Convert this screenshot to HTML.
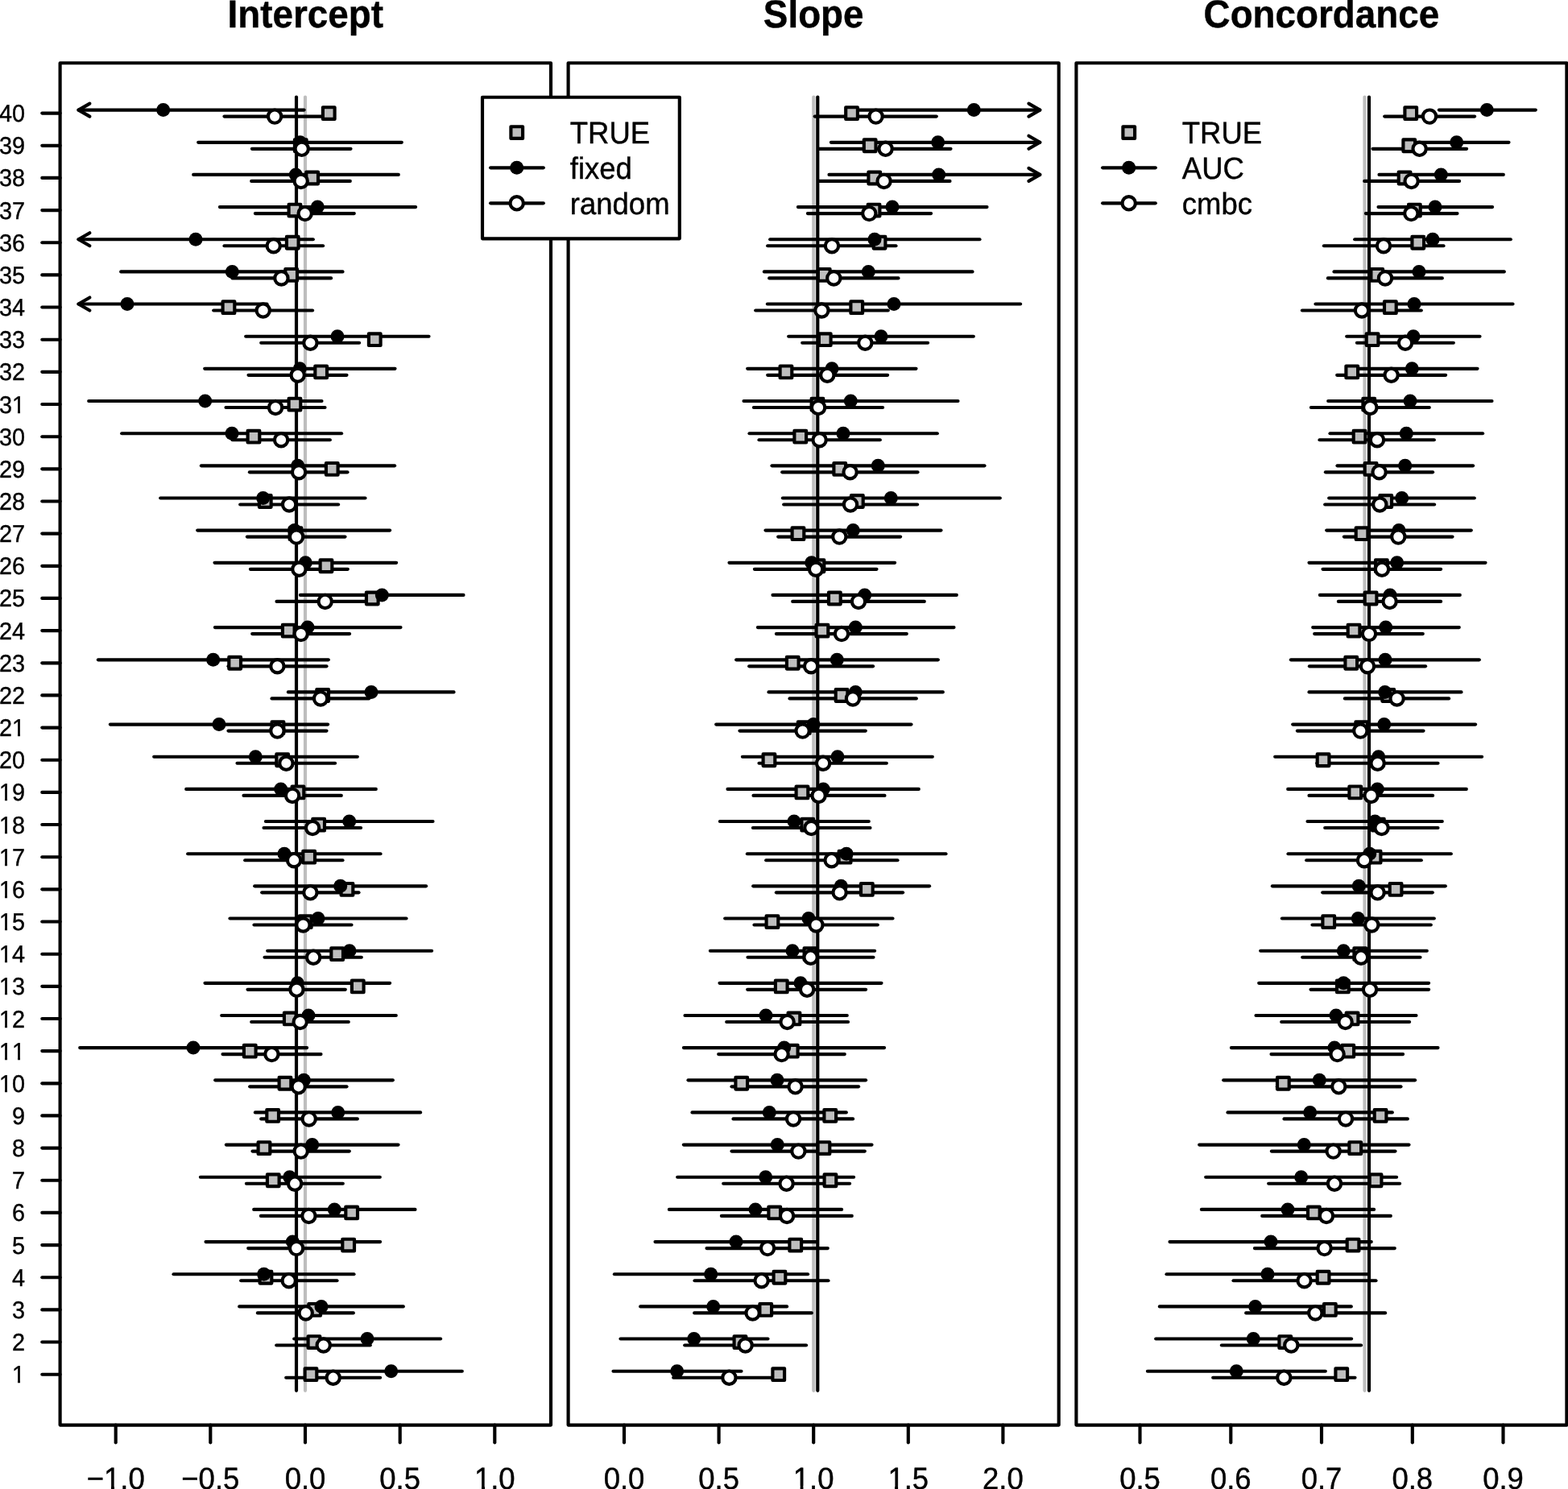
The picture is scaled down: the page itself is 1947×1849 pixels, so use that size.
<!DOCTYPE html>
<html lang="en"><head><meta charset="utf-8"><title>Intercept, Slope, Concordance</title>
<style>
html,body{margin:0;padding:0;background:#fff;}
body{width:1947px;height:1849px;overflow:hidden;}
svg{display:block;}
text{font-family:"Liberation Sans",sans-serif;fill:#000;stroke:#000;stroke-width:0.4px;stroke-linejoin:round;font-kerning:none;text-rendering:geometricPrecision;}
.t{font-size:45.8px;font-weight:bold;text-anchor:middle;}
.x{font-size:36.5px;text-anchor:middle;}
.y{font-size:28.8px;text-anchor:end;}
.l{font-size:36.5px;}
.k{stroke:#000;stroke-width:4.15;stroke-linecap:round;stroke-linejoin:round;fill:none;}
.g{stroke:#bebebe;stroke-width:4.15;stroke-linecap:round;fill:none;}
.b{stroke:#000;stroke-width:4.15;fill:none;stroke-linejoin:round;}
.d{fill:#000;stroke:none;}
.c{fill:#fff;stroke:#000;stroke-width:4.15;}
.s{fill:#bebebe;stroke:#000;stroke-width:4.15;stroke-linejoin:round;}
</style></head><body>
<svg width="1947" height="1849" viewBox="0 0 1947 1849">
<rect x="0" y="0" width="1947" height="1849" fill="#fff"/>
<g>
<text class="t" transform="translate(379.3 34.4) scale(1 1.06)">Intercept</text>
<line class="g" x1="379" y1="120.5" x2="379" y2="1726.8"/>
<line class="k" x1="368" y1="120.5" x2="368" y2="1726.8"/>
<line class="k" x1="97.5" y1="136.6" x2="377.6" y2="136.6"/>
<path class="k" d="M111.4 128.6 L97.5 136.6 L111.4 144.6"/>
<line class="k" x1="278.5" y1="144.6" x2="406.8" y2="144.6"/>
<line class="k" x1="246.2" y1="176.8" x2="498.8" y2="176.8"/>
<line class="k" x1="312.9" y1="184.8" x2="435.5" y2="184.8"/>
<line class="k" x1="240.2" y1="216.9" x2="494.8" y2="216.9"/>
<line class="k" x1="312.2" y1="224.9" x2="434.8" y2="224.9"/>
<line class="k" x1="272.9" y1="257.1" x2="516.1" y2="257.1"/>
<line class="k" x1="316.9" y1="265.1" x2="439.8" y2="265.1"/>
<line class="k" x1="97.5" y1="297.2" x2="388.8" y2="297.2"/>
<path class="k" d="M111.4 289.2 L97.5 297.2 L111.4 305.2"/>
<line class="k" x1="278.5" y1="305.2" x2="401.1" y2="305.2"/>
<line class="k" x1="150.2" y1="337.4" x2="425.5" y2="337.4"/>
<line class="k" x1="288.5" y1="345.4" x2="411.1" y2="345.4"/>
<line class="k" x1="97.5" y1="377.5" x2="331.5" y2="377.5"/>
<path class="k" d="M111.4 369.5 L97.5 377.5 L111.4 385.5"/>
<line class="k" x1="265.2" y1="385.5" x2="388.1" y2="385.5"/>
<line class="k" x1="305.2" y1="417.7" x2="532.5" y2="417.7"/>
<line class="k" x1="324.2" y1="425.7" x2="446.1" y2="425.7"/>
<line class="k" x1="254.2" y1="457.8" x2="490.5" y2="457.8"/>
<line class="k" x1="308.5" y1="465.8" x2="430.5" y2="465.8"/>
<line class="k" x1="110.2" y1="498" x2="399.5" y2="498"/>
<line class="k" x1="280.5" y1="506" x2="403.5" y2="506"/>
<line class="k" x1="151.2" y1="538.2" x2="424.1" y2="538.2"/>
<line class="k" x1="288.5" y1="546.2" x2="409.8" y2="546.2"/>
<line class="k" x1="249.9" y1="578.3" x2="490.1" y2="578.3"/>
<line class="k" x1="309.9" y1="586.3" x2="431.5" y2="586.3"/>
<line class="k" x1="199.2" y1="618.5" x2="453.5" y2="618.5"/>
<line class="k" x1="298.2" y1="626.5" x2="420.1" y2="626.5"/>
<line class="k" x1="245.2" y1="658.6" x2="484.1" y2="658.6"/>
<line class="k" x1="306.9" y1="666.6" x2="428.5" y2="666.6"/>
<line class="k" x1="266.5" y1="698.8" x2="492.1" y2="698.8"/>
<line class="k" x1="310.9" y1="706.8" x2="431.8" y2="706.8"/>
<line class="k" x1="372.9" y1="738.9" x2="575.5" y2="738.9"/>
<line class="k" x1="343.5" y1="746.9" x2="463.8" y2="746.9"/>
<line class="k" x1="266.9" y1="779.1" x2="497.5" y2="779.1"/>
<line class="k" x1="313.2" y1="787.1" x2="434.1" y2="787.1"/>
<line class="k" x1="121.9" y1="819.3" x2="407.8" y2="819.3"/>
<line class="k" x1="283.5" y1="827.3" x2="405.5" y2="827.3"/>
<line class="k" x1="357.9" y1="859.4" x2="563.5" y2="859.4"/>
<line class="k" x1="337.5" y1="867.4" x2="458.1" y2="867.4"/>
<line class="k" x1="136.9" y1="899.6" x2="407.1" y2="899.6"/>
<line class="k" x1="283.5" y1="907.6" x2="405.5" y2="907.6"/>
<line class="k" x1="191.2" y1="939.7" x2="443.8" y2="939.7"/>
<line class="k" x1="294.5" y1="947.7" x2="416.1" y2="947.7"/>
<line class="k" x1="231.2" y1="979.9" x2="466.8" y2="979.9"/>
<line class="k" x1="302.5" y1="987.9" x2="423.8" y2="987.9"/>
<line class="k" x1="329.9" y1="1020" x2="537.5" y2="1020"/>
<line class="k" x1="327.5" y1="1028" x2="448.1" y2="1028"/>
<line class="k" x1="233.2" y1="1060.2" x2="472.5" y2="1060.2"/>
<line class="k" x1="304.2" y1="1068.2" x2="425.5" y2="1068.2"/>
<line class="k" x1="316.2" y1="1100.3" x2="529.1" y2="1100.3"/>
<line class="k" x1="325.2" y1="1108.3" x2="445.5" y2="1108.3"/>
<line class="k" x1="285.5" y1="1140.5" x2="504.5" y2="1140.5"/>
<line class="k" x1="315.5" y1="1148.5" x2="436.5" y2="1148.5"/>
<line class="k" x1="332.2" y1="1180.7" x2="536.1" y2="1180.7"/>
<line class="k" x1="328.5" y1="1188.7" x2="448.8" y2="1188.7"/>
<line class="k" x1="254.5" y1="1220.8" x2="484.1" y2="1220.8"/>
<line class="k" x1="307.5" y1="1228.8" x2="428.8" y2="1228.8"/>
<line class="k" x1="275.2" y1="1261" x2="491.8" y2="1261"/>
<line class="k" x1="312.2" y1="1269" x2="432.8" y2="1269"/>
<line class="k" x1="99.2" y1="1301.1" x2="381.1" y2="1301.1"/>
<line class="k" x1="276.5" y1="1309.1" x2="398.5" y2="1309.1"/>
<line class="k" x1="267.2" y1="1341.3" x2="487.8" y2="1341.3"/>
<line class="k" x1="310.2" y1="1349.3" x2="430.5" y2="1349.3"/>
<line class="k" x1="316.9" y1="1381.4" x2="522.1" y2="1381.4"/>
<line class="k" x1="324.2" y1="1389.4" x2="443.8" y2="1389.4"/>
<line class="k" x1="280.9" y1="1421.6" x2="494.5" y2="1421.6"/>
<line class="k" x1="313.5" y1="1429.6" x2="433.8" y2="1429.6"/>
<line class="k" x1="248.9" y1="1461.7" x2="471.8" y2="1461.7"/>
<line class="k" x1="305.9" y1="1469.7" x2="425.8" y2="1469.7"/>
<line class="k" x1="315.2" y1="1501.9" x2="515.5" y2="1501.9"/>
<line class="k" x1="323.9" y1="1509.9" x2="443.1" y2="1509.9"/>
<line class="k" x1="255.5" y1="1542.1" x2="472.1" y2="1542.1"/>
<line class="k" x1="308.2" y1="1550.1" x2="427.8" y2="1550.1"/>
<line class="k" x1="215.5" y1="1582.2" x2="439.5" y2="1582.2"/>
<line class="k" x1="299.2" y1="1590.2" x2="418.5" y2="1590.2"/>
<line class="k" x1="297.2" y1="1622.4" x2="500.8" y2="1622.4"/>
<line class="k" x1="319.9" y1="1630.4" x2="438.8" y2="1630.4"/>
<line class="k" x1="365.2" y1="1662.5" x2="547.1" y2="1662.5"/>
<line class="k" x1="343.2" y1="1670.5" x2="459.8" y2="1670.5"/>
<line class="k" x1="391.2" y1="1702.7" x2="573.8" y2="1702.7"/>
<line class="k" x1="355.2" y1="1710.7" x2="472.1" y2="1710.7"/>
<rect class="s" x="400.9" y="133.2" width="14.7" height="14.7"/>
<rect class="s" x="365.9" y="173.4" width="14.7" height="14.7"/>
<rect class="s" x="380.3" y="213.6" width="14.7" height="14.7"/>
<rect class="s" x="358.6" y="253.7" width="14.7" height="14.7"/>
<rect class="s" x="355.9" y="293.9" width="14.7" height="14.7"/>
<rect class="s" x="354.3" y="334" width="14.7" height="14.7"/>
<rect class="s" x="276.6" y="374.2" width="14.7" height="14.7"/>
<rect class="s" x="457.9" y="414.3" width="14.7" height="14.7"/>
<rect class="s" x="391.3" y="454.5" width="14.7" height="14.7"/>
<rect class="s" x="358.6" y="494.7" width="14.7" height="14.7"/>
<rect class="s" x="307.6" y="534.8" width="14.7" height="14.7"/>
<rect class="s" x="404.9" y="575" width="14.7" height="14.7"/>
<rect class="s" x="321.9" y="615.1" width="14.7" height="14.7"/>
<rect class="s" x="359.6" y="655.3" width="14.7" height="14.7"/>
<rect class="s" x="397.6" y="695.4" width="14.7" height="14.7"/>
<rect class="s" x="454.9" y="735.6" width="14.7" height="14.7"/>
<rect class="s" x="350.9" y="775.7" width="14.7" height="14.7"/>
<rect class="s" x="284.3" y="815.9" width="14.7" height="14.7"/>
<rect class="s" x="393.3" y="856.1" width="14.7" height="14.7"/>
<rect class="s" x="337.6" y="896.2" width="14.7" height="14.7"/>
<rect class="s" x="343.3" y="936.4" width="14.7" height="14.7"/>
<rect class="s" x="362.6" y="976.5" width="14.7" height="14.7"/>
<rect class="s" x="388.3" y="1016.7" width="14.7" height="14.7"/>
<rect class="s" x="376.3" y="1056.8" width="14.7" height="14.7"/>
<rect class="s" x="423.6" y="1097" width="14.7" height="14.7"/>
<rect class="s" x="371.9" y="1137.2" width="14.7" height="14.7"/>
<rect class="s" x="411.3" y="1177.3" width="14.7" height="14.7"/>
<rect class="s" x="436.9" y="1217.5" width="14.7" height="14.7"/>
<rect class="s" x="352.9" y="1257.6" width="14.7" height="14.7"/>
<rect class="s" x="302.9" y="1297.8" width="14.7" height="14.7"/>
<rect class="s" x="346.6" y="1337.9" width="14.7" height="14.7"/>
<rect class="s" x="331.3" y="1378.1" width="14.7" height="14.7"/>
<rect class="s" x="320.6" y="1418.2" width="14.7" height="14.7"/>
<rect class="s" x="331.9" y="1458.4" width="14.7" height="14.7"/>
<rect class="s" x="429.3" y="1498.6" width="14.7" height="14.7"/>
<rect class="s" x="425.3" y="1538.7" width="14.7" height="14.7"/>
<rect class="s" x="322.6" y="1578.9" width="14.7" height="14.7"/>
<rect class="s" x="383.3" y="1619" width="14.7" height="14.7"/>
<rect class="s" x="382.6" y="1659.2" width="14.7" height="14.7"/>
<rect class="s" x="378.6" y="1699.3" width="14.7" height="14.7"/>
<circle class="d" cx="202.7" cy="136.6" r="8.5"/>
<circle class="d" cx="372.7" cy="176.8" r="8.5"/>
<circle class="d" cx="367.3" cy="216.9" r="8.5"/>
<circle class="d" cx="394.3" cy="257.1" r="8.5"/>
<circle class="d" cx="243" cy="297.2" r="8.5"/>
<circle class="d" cx="288.3" cy="337.4" r="8.5"/>
<circle class="d" cx="158" cy="377.5" r="8.5"/>
<circle class="d" cx="419" cy="417.7" r="8.5"/>
<circle class="d" cx="372.3" cy="457.8" r="8.5"/>
<circle class="d" cx="254.7" cy="498" r="8.5"/>
<circle class="d" cx="288" cy="538.2" r="8.5"/>
<circle class="d" cx="369.7" cy="578.3" r="8.5"/>
<circle class="d" cx="326.7" cy="618.5" r="8.5"/>
<circle class="d" cx="365.7" cy="658.6" r="8.5"/>
<circle class="d" cx="379.3" cy="698.8" r="8.5"/>
<circle class="d" cx="474.3" cy="738.9" r="8.5"/>
<circle class="d" cx="382" cy="779.1" r="8.5"/>
<circle class="d" cx="264.7" cy="819.3" r="8.5"/>
<circle class="d" cx="461" cy="859.4" r="8.5"/>
<circle class="d" cx="272" cy="899.6" r="8.5"/>
<circle class="d" cx="317.3" cy="939.7" r="8.5"/>
<circle class="d" cx="348.7" cy="979.9" r="8.5"/>
<circle class="d" cx="433.7" cy="1020" r="8.5"/>
<circle class="d" cx="353" cy="1060.2" r="8.5"/>
<circle class="d" cx="422.7" cy="1100.3" r="8.5"/>
<circle class="d" cx="395" cy="1140.5" r="8.5"/>
<circle class="d" cx="434" cy="1180.7" r="8.5"/>
<circle class="d" cx="369.3" cy="1220.8" r="8.5"/>
<circle class="d" cx="383" cy="1261" r="8.5"/>
<circle class="d" cx="240" cy="1301.1" r="8.5"/>
<circle class="d" cx="377.3" cy="1341.3" r="8.5"/>
<circle class="d" cx="419.7" cy="1381.4" r="8.5"/>
<circle class="d" cx="387.7" cy="1421.6" r="8.5"/>
<circle class="d" cx="359.7" cy="1461.7" r="8.5"/>
<circle class="d" cx="415.3" cy="1501.9" r="8.5"/>
<circle class="d" cx="363.3" cy="1542.1" r="8.5"/>
<circle class="d" cx="327.7" cy="1582.2" r="8.5"/>
<circle class="d" cx="399" cy="1622.4" r="8.5"/>
<circle class="d" cx="456" cy="1662.5" r="8.5"/>
<circle class="d" cx="485.7" cy="1702.7" r="8.5"/>
<circle class="c" cx="341.1" cy="144.6" r="8.15"/>
<circle class="c" cx="374.7" cy="184.8" r="8.15"/>
<circle class="c" cx="373.7" cy="224.9" r="8.15"/>
<circle class="c" cx="378.7" cy="265.1" r="8.15"/>
<circle class="c" cx="339.7" cy="305.2" r="8.15"/>
<circle class="c" cx="349.4" cy="345.4" r="8.15"/>
<circle class="c" cx="326.7" cy="385.5" r="8.15"/>
<circle class="c" cx="385.4" cy="425.7" r="8.15"/>
<circle class="c" cx="369.7" cy="465.8" r="8.15"/>
<circle class="c" cx="342.1" cy="506" r="8.15"/>
<circle class="c" cx="349.1" cy="546.2" r="8.15"/>
<circle class="c" cx="371.1" cy="586.3" r="8.15"/>
<circle class="c" cx="359.1" cy="626.5" r="8.15"/>
<circle class="c" cx="368.1" cy="666.6" r="8.15"/>
<circle class="c" cx="371.4" cy="706.8" r="8.15"/>
<circle class="c" cx="403.7" cy="746.9" r="8.15"/>
<circle class="c" cx="373.7" cy="787.1" r="8.15"/>
<circle class="c" cx="344.4" cy="827.3" r="8.15"/>
<circle class="c" cx="398.1" cy="867.4" r="8.15"/>
<circle class="c" cx="344.4" cy="907.6" r="8.15"/>
<circle class="c" cx="355.4" cy="947.7" r="8.15"/>
<circle class="c" cx="363.1" cy="987.9" r="8.15"/>
<circle class="c" cx="388.1" cy="1028" r="8.15"/>
<circle class="c" cx="365.1" cy="1068.2" r="8.15"/>
<circle class="c" cx="385.4" cy="1108.3" r="8.15"/>
<circle class="c" cx="376.4" cy="1148.5" r="8.15"/>
<circle class="c" cx="389.1" cy="1188.7" r="8.15"/>
<circle class="c" cx="368.4" cy="1228.8" r="8.15"/>
<circle class="c" cx="372.7" cy="1269" r="8.15"/>
<circle class="c" cx="337.4" cy="1309.1" r="8.15"/>
<circle class="c" cx="370.7" cy="1349.3" r="8.15"/>
<circle class="c" cx="383.7" cy="1389.4" r="8.15"/>
<circle class="c" cx="373.7" cy="1429.6" r="8.15"/>
<circle class="c" cx="366.1" cy="1469.7" r="8.15"/>
<circle class="c" cx="383.4" cy="1509.9" r="8.15"/>
<circle class="c" cx="368.1" cy="1550.1" r="8.15"/>
<circle class="c" cx="358.7" cy="1590.2" r="8.15"/>
<circle class="c" cx="379.7" cy="1630.4" r="8.15"/>
<circle class="c" cx="401.7" cy="1670.5" r="8.15"/>
<circle class="c" cx="413.7" cy="1710.7" r="8.15"/>
<rect class="b" x="74.6" y="78.2" width="609.4" height="1691.4"/>
<line class="k" x1="143.7" y1="1769.6" x2="143.7" y2="1791.3"/>
<text class="x" transform="translate(143.7 1848.5) scale(1 1.044)">−1.0</text>
<line class="k" x1="261.3" y1="1769.6" x2="261.3" y2="1791.3"/>
<text class="x" transform="translate(261.3 1848.5) scale(1 1.044)">−0.5</text>
<line class="k" x1="379" y1="1769.6" x2="379" y2="1791.3"/>
<text class="x" transform="translate(379 1848.5) scale(1 1.044)">0.0</text>
<line class="k" x1="496.7" y1="1769.6" x2="496.7" y2="1791.3"/>
<text class="x" transform="translate(496.7 1848.5) scale(1 1.044)">0.5</text>
<line class="k" x1="614.3" y1="1769.6" x2="614.3" y2="1791.3"/>
<text class="x" transform="translate(614.3 1848.5) scale(1 1.044)">1.0</text>
</g>
<g>
<text class="t" transform="translate(1010.2 34.4) scale(1 1.06)">Slope</text>
<line class="g" x1="1010.3" y1="120.5" x2="1010.3" y2="1726.8"/>
<line class="k" x1="1015.3" y1="120.5" x2="1015.3" y2="1726.8"/>
<line class="k" x1="1059.5" y1="136.6" x2="1291.3" y2="136.6"/>
<path class="k" d="M1277.4 128.6 L1291.3 136.6 L1277.4 144.6"/>
<line class="k" x1="1011.7" y1="144.6" x2="1162.8" y2="144.6"/>
<line class="k" x1="1031.9" y1="176.8" x2="1291.3" y2="176.8"/>
<path class="k" d="M1277.4 168.8 L1291.3 176.8 L1277.4 184.8"/>
<line class="k" x1="1017.2" y1="184.8" x2="1180.5" y2="184.8"/>
<line class="k" x1="1029.5" y1="216.9" x2="1291.3" y2="216.9"/>
<path class="k" d="M1277.4 208.9 L1291.3 216.9 L1277.4 224.9"/>
<line class="k" x1="1017.2" y1="224.9" x2="1179.5" y2="224.9"/>
<line class="k" x1="990.9" y1="257.1" x2="1225.5" y2="257.1"/>
<line class="k" x1="1002.9" y1="265.1" x2="1156.1" y2="265.1"/>
<line class="k" x1="956.2" y1="297.2" x2="1216.5" y2="297.2"/>
<line class="k" x1="953.2" y1="305.2" x2="1112.5" y2="305.2"/>
<line class="k" x1="948.9" y1="337.4" x2="1207.5" y2="337.4"/>
<line class="k" x1="955.2" y1="345.4" x2="1115.5" y2="345.4"/>
<line class="k" x1="952.9" y1="377.5" x2="1267.1" y2="377.5"/>
<line class="k" x1="938.2" y1="385.5" x2="1102.8" y2="385.5"/>
<line class="k" x1="979.2" y1="417.7" x2="1208.8" y2="417.7"/>
<line class="k" x1="996.2" y1="425.7" x2="1152.1" y2="425.7"/>
<line class="k" x1="928.2" y1="457.8" x2="1137.5" y2="457.8"/>
<line class="k" x1="953.2" y1="465.8" x2="1102.1" y2="465.8"/>
<line class="k" x1="923.5" y1="498" x2="1189.5" y2="498"/>
<line class="k" x1="935.9" y1="506" x2="1096.1" y2="506"/>
<line class="k" x1="930.5" y1="538.2" x2="1163.8" y2="538.2"/>
<line class="k" x1="942.5" y1="546.2" x2="1092.8" y2="546.2"/>
<line class="k" x1="958.5" y1="578.3" x2="1222.5" y2="578.3"/>
<line class="k" x1="971.2" y1="586.3" x2="1139.5" y2="586.3"/>
<line class="k" x1="971.9" y1="618.5" x2="1241.8" y2="618.5"/>
<line class="k" x1="973.2" y1="626.5" x2="1139.1" y2="626.5"/>
<line class="k" x1="950.5" y1="658.6" x2="1168.5" y2="658.6"/>
<line class="k" x1="966.2" y1="666.6" x2="1118.1" y2="666.6"/>
<line class="k" x1="905.5" y1="698.8" x2="1111.1" y2="698.8"/>
<line class="k" x1="936.9" y1="706.8" x2="1088.5" y2="706.8"/>
<line class="k" x1="959.5" y1="738.9" x2="1187.8" y2="738.9"/>
<line class="k" x1="984.2" y1="746.9" x2="1147.8" y2="746.9"/>
<line class="k" x1="940.9" y1="779.1" x2="1184.5" y2="779.1"/>
<line class="k" x1="963.9" y1="787.1" x2="1125.8" y2="787.1"/>
<line class="k" x1="914.2" y1="819.3" x2="1164.8" y2="819.3"/>
<line class="k" x1="930.2" y1="827.3" x2="1084.1" y2="827.3"/>
<line class="k" x1="954.5" y1="859.4" x2="1170.8" y2="859.4"/>
<line class="k" x1="980.5" y1="867.4" x2="1137.8" y2="867.4"/>
<line class="k" x1="889.2" y1="899.6" x2="1131.5" y2="899.6"/>
<line class="k" x1="918.5" y1="907.6" x2="1074.8" y2="907.6"/>
<line class="k" x1="921.9" y1="939.7" x2="1157.8" y2="939.7"/>
<line class="k" x1="942.5" y1="947.7" x2="1100.8" y2="947.7"/>
<line class="k" x1="903.5" y1="979.9" x2="1140.8" y2="979.9"/>
<line class="k" x1="935.5" y1="987.9" x2="1098.5" y2="987.9"/>
<line class="k" x1="893.9" y1="1020" x2="1078.8" y2="1020"/>
<line class="k" x1="934.9" y1="1028" x2="1080.5" y2="1028"/>
<line class="k" x1="927.9" y1="1060.2" x2="1174.5" y2="1060.2"/>
<line class="k" x1="951.2" y1="1068.2" x2="1114.5" y2="1068.2"/>
<line class="k" x1="935.2" y1="1100.3" x2="1154.1" y2="1100.3"/>
<line class="k" x1="963.9" y1="1108.3" x2="1121.1" y2="1108.3"/>
<line class="k" x1="900.2" y1="1140.5" x2="1108.5" y2="1140.5"/>
<line class="k" x1="936.5" y1="1148.5" x2="1089.8" y2="1148.5"/>
<line class="k" x1="881.9" y1="1180.7" x2="1086.1" y2="1180.7"/>
<line class="k" x1="928.5" y1="1188.7" x2="1084.5" y2="1188.7"/>
<line class="k" x1="893.5" y1="1220.8" x2="1094.5" y2="1220.8"/>
<line class="k" x1="928.2" y1="1228.8" x2="1075.1" y2="1228.8"/>
<line class="k" x1="850.5" y1="1261" x2="1051.8" y2="1261"/>
<line class="k" x1="902.2" y1="1269" x2="1053.1" y2="1269"/>
<line class="k" x1="848.9" y1="1301.1" x2="1098.1" y2="1301.1"/>
<line class="k" x1="892.2" y1="1309.1" x2="1048.8" y2="1309.1"/>
<line class="k" x1="854.5" y1="1341.3" x2="1075.1" y2="1341.3"/>
<line class="k" x1="908.5" y1="1349.3" x2="1066.1" y2="1349.3"/>
<line class="k" x1="859.5" y1="1381.4" x2="1050.8" y2="1381.4"/>
<line class="k" x1="910.5" y1="1389.4" x2="1059.1" y2="1389.4"/>
<line class="k" x1="848.9" y1="1421.6" x2="1082.5" y2="1421.6"/>
<line class="k" x1="908.5" y1="1429.6" x2="1073.8" y2="1429.6"/>
<line class="k" x1="841.2" y1="1461.7" x2="1060.1" y2="1461.7"/>
<line class="k" x1="898.2" y1="1469.7" x2="1055.1" y2="1469.7"/>
<line class="k" x1="830.9" y1="1501.9" x2="1045.1" y2="1501.9"/>
<line class="k" x1="895.9" y1="1509.9" x2="1057.8" y2="1509.9"/>
<line class="k" x1="813.5" y1="1542.1" x2="1014.8" y2="1542.1"/>
<line class="k" x1="877.5" y1="1550.1" x2="1027.8" y2="1550.1"/>
<line class="k" x1="762.9" y1="1582.2" x2="1003.1" y2="1582.2"/>
<line class="k" x1="862.5" y1="1590.2" x2="1028.5" y2="1590.2"/>
<line class="k" x1="795.2" y1="1622.4" x2="977.1" y2="1622.4"/>
<line class="k" x1="862.2" y1="1630.4" x2="1007.8" y2="1630.4"/>
<line class="k" x1="770.5" y1="1662.5" x2="953.5" y2="1662.5"/>
<line class="k" x1="850.2" y1="1670.5" x2="1001.1" y2="1670.5"/>
<line class="k" x1="761.5" y1="1702.7" x2="920.5" y2="1702.7"/>
<line class="k" x1="836.2" y1="1710.7" x2="972.1" y2="1710.7"/>
<rect class="s" x="1050.2" y="133.2" width="14.7" height="14.7"/>
<rect class="s" x="1072.8" y="173.4" width="14.7" height="14.7"/>
<rect class="s" x="1078.4" y="213.6" width="14.7" height="14.7"/>
<rect class="s" x="1077.7" y="253.7" width="14.7" height="14.7"/>
<rect class="s" x="1084.7" y="293.9" width="14.7" height="14.7"/>
<rect class="s" x="1015.9" y="334" width="14.7" height="14.7"/>
<rect class="s" x="1056.4" y="374.2" width="14.7" height="14.7"/>
<rect class="s" x="1016.9" y="414.3" width="14.7" height="14.7"/>
<rect class="s" x="968.6" y="454.5" width="14.7" height="14.7"/>
<rect class="s" x="1007.6" y="494.7" width="14.7" height="14.7"/>
<rect class="s" x="986.4" y="534.8" width="14.7" height="14.7"/>
<rect class="s" x="1035.4" y="575" width="14.7" height="14.7"/>
<rect class="s" x="1057" y="615.1" width="14.7" height="14.7"/>
<rect class="s" x="983.6" y="655.3" width="14.7" height="14.7"/>
<rect class="s" x="1008.6" y="695.4" width="14.7" height="14.7"/>
<rect class="s" x="1029" y="735.6" width="14.7" height="14.7"/>
<rect class="s" x="1013.6" y="775.7" width="14.7" height="14.7"/>
<rect class="s" x="976.9" y="815.9" width="14.7" height="14.7"/>
<rect class="s" x="1037.7" y="856.1" width="14.7" height="14.7"/>
<rect class="s" x="990.9" y="896.2" width="14.7" height="14.7"/>
<rect class="s" x="947.6" y="936.4" width="14.7" height="14.7"/>
<rect class="s" x="988.6" y="976.5" width="14.7" height="14.7"/>
<rect class="s" x="995.4" y="1016.7" width="14.7" height="14.7"/>
<rect class="s" x="1041.7" y="1056.8" width="14.7" height="14.7"/>
<rect class="s" x="1069" y="1097" width="14.7" height="14.7"/>
<rect class="s" x="951.6" y="1137.2" width="14.7" height="14.7"/>
<rect class="s" x="998.6" y="1177.3" width="14.7" height="14.7"/>
<rect class="s" x="962.9" y="1217.5" width="14.7" height="14.7"/>
<rect class="s" x="978.6" y="1257.6" width="14.7" height="14.7"/>
<rect class="s" x="975.9" y="1297.8" width="14.7" height="14.7"/>
<rect class="s" x="913.4" y="1337.9" width="14.7" height="14.7"/>
<rect class="s" x="1023.4" y="1378.1" width="14.7" height="14.7"/>
<rect class="s" x="1015.6" y="1418.2" width="14.7" height="14.7"/>
<rect class="s" x="1023.6" y="1458.4" width="14.7" height="14.7"/>
<rect class="s" x="954.4" y="1498.6" width="14.7" height="14.7"/>
<rect class="s" x="980.4" y="1538.7" width="14.7" height="14.7"/>
<rect class="s" x="960.6" y="1578.9" width="14.7" height="14.7"/>
<rect class="s" x="943.4" y="1619" width="14.7" height="14.7"/>
<rect class="s" x="911.6" y="1659.2" width="14.7" height="14.7"/>
<rect class="s" x="959.4" y="1699.3" width="14.7" height="14.7"/>
<circle class="d" cx="1209.3" cy="136.6" r="8.5"/>
<circle class="d" cx="1164.7" cy="176.8" r="8.5"/>
<circle class="d" cx="1165.7" cy="216.9" r="8.5"/>
<circle class="d" cx="1108" cy="257.1" r="8.5"/>
<circle class="d" cx="1086" cy="297.2" r="8.5"/>
<circle class="d" cx="1078.3" cy="337.4" r="8.5"/>
<circle class="d" cx="1110" cy="377.5" r="8.5"/>
<circle class="d" cx="1094" cy="417.7" r="8.5"/>
<circle class="d" cx="1033" cy="457.8" r="8.5"/>
<circle class="d" cx="1056.3" cy="498" r="8.5"/>
<circle class="d" cx="1047" cy="538.2" r="8.5"/>
<circle class="d" cx="1090.3" cy="578.3" r="8.5"/>
<circle class="d" cx="1106.3" cy="618.5" r="8.5"/>
<circle class="d" cx="1059.3" cy="658.6" r="8.5"/>
<circle class="d" cx="1007.7" cy="698.8" r="8.5"/>
<circle class="d" cx="1073.7" cy="738.9" r="8.5"/>
<circle class="d" cx="1062.3" cy="779.1" r="8.5"/>
<circle class="d" cx="1039.3" cy="819.3" r="8.5"/>
<circle class="d" cx="1062.3" cy="859.4" r="8.5"/>
<circle class="d" cx="1010" cy="899.6" r="8.5"/>
<circle class="d" cx="1040" cy="939.7" r="8.5"/>
<circle class="d" cx="1022.3" cy="979.9" r="8.5"/>
<circle class="d" cx="986" cy="1020" r="8.5"/>
<circle class="d" cx="1051" cy="1060.2" r="8.5"/>
<circle class="d" cx="1044.3" cy="1100.3" r="8.5"/>
<circle class="d" cx="1004" cy="1140.5" r="8.5"/>
<circle class="d" cx="984" cy="1180.7" r="8.5"/>
<circle class="d" cx="994" cy="1220.8" r="8.5"/>
<circle class="d" cx="951" cy="1261" r="8.5"/>
<circle class="d" cx="973.7" cy="1301.1" r="8.5"/>
<circle class="d" cx="965" cy="1341.3" r="8.5"/>
<circle class="d" cx="955.3" cy="1381.4" r="8.5"/>
<circle class="d" cx="965.3" cy="1421.6" r="8.5"/>
<circle class="d" cx="950.7" cy="1461.7" r="8.5"/>
<circle class="d" cx="938" cy="1501.9" r="8.5"/>
<circle class="d" cx="914" cy="1542.1" r="8.5"/>
<circle class="d" cx="882.7" cy="1582.2" r="8.5"/>
<circle class="d" cx="885.7" cy="1622.4" r="8.5"/>
<circle class="d" cx="861.7" cy="1662.5" r="8.5"/>
<circle class="d" cx="840.7" cy="1702.7" r="8.5"/>
<circle class="c" cx="1087.6" cy="144.6" r="8.15"/>
<circle class="c" cx="1099.6" cy="184.8" r="8.15"/>
<circle class="c" cx="1097.6" cy="224.9" r="8.15"/>
<circle class="c" cx="1079.3" cy="265.1" r="8.15"/>
<circle class="c" cx="1033" cy="305.2" r="8.15"/>
<circle class="c" cx="1035.3" cy="345.4" r="8.15"/>
<circle class="c" cx="1020.4" cy="385.5" r="8.15"/>
<circle class="c" cx="1074.3" cy="425.7" r="8.15"/>
<circle class="c" cx="1027.3" cy="465.8" r="8.15"/>
<circle class="c" cx="1016.1" cy="506" r="8.15"/>
<circle class="c" cx="1017.6" cy="546.2" r="8.15"/>
<circle class="c" cx="1055.6" cy="586.3" r="8.15"/>
<circle class="c" cx="1056" cy="626.5" r="8.15"/>
<circle class="c" cx="1042.3" cy="666.6" r="8.15"/>
<circle class="c" cx="1013.1" cy="706.8" r="8.15"/>
<circle class="c" cx="1066" cy="746.9" r="8.15"/>
<circle class="c" cx="1045" cy="787.1" r="8.15"/>
<circle class="c" cx="1007.1" cy="827.3" r="8.15"/>
<circle class="c" cx="1059" cy="867.4" r="8.15"/>
<circle class="c" cx="996.6" cy="907.6" r="8.15"/>
<circle class="c" cx="1022.1" cy="947.7" r="8.15"/>
<circle class="c" cx="1016.6" cy="987.9" r="8.15"/>
<circle class="c" cx="1007.4" cy="1028" r="8.15"/>
<circle class="c" cx="1032.6" cy="1068.2" r="8.15"/>
<circle class="c" cx="1042.6" cy="1108.3" r="8.15"/>
<circle class="c" cx="1013.4" cy="1148.5" r="8.15"/>
<circle class="c" cx="1006.6" cy="1188.7" r="8.15"/>
<circle class="c" cx="1002.1" cy="1228.8" r="8.15"/>
<circle class="c" cx="977.6" cy="1269" r="8.15"/>
<circle class="c" cx="970.6" cy="1309.1" r="8.15"/>
<circle class="c" cx="987.6" cy="1349.3" r="8.15"/>
<circle class="c" cx="985.1" cy="1389.4" r="8.15"/>
<circle class="c" cx="991.4" cy="1429.6" r="8.15"/>
<circle class="c" cx="976.6" cy="1469.7" r="8.15"/>
<circle class="c" cx="977.1" cy="1509.9" r="8.15"/>
<circle class="c" cx="953.1" cy="1550.1" r="8.15"/>
<circle class="c" cx="945.6" cy="1590.2" r="8.15"/>
<circle class="c" cx="934.6" cy="1630.4" r="8.15"/>
<circle class="c" cx="925.6" cy="1670.5" r="8.15"/>
<circle class="c" cx="905.4" cy="1710.7" r="8.15"/>
<rect class="b" x="705.6" y="78.2" width="609.1" height="1691.4"/>
<line class="k" x1="775" y1="1769.6" x2="775" y2="1791.3"/>
<text class="x" transform="translate(775 1848.5) scale(1 1.044)">0.0</text>
<line class="k" x1="892.6" y1="1769.6" x2="892.6" y2="1791.3"/>
<text class="x" transform="translate(892.6 1848.5) scale(1 1.044)">0.5</text>
<line class="k" x1="1010.2" y1="1769.6" x2="1010.2" y2="1791.3"/>
<text class="x" transform="translate(1010.2 1848.5) scale(1 1.044)">1.0</text>
<line class="k" x1="1127.8" y1="1769.6" x2="1127.8" y2="1791.3"/>
<text class="x" transform="translate(1127.8 1848.5) scale(1 1.044)">1.5</text>
<line class="k" x1="1245.4" y1="1769.6" x2="1245.4" y2="1791.3"/>
<text class="x" transform="translate(1245.4 1848.5) scale(1 1.044)">2.0</text>
</g>
<g>
<text class="t" transform="translate(1640.9 34.4) scale(1 1.06)">Concordance</text>
<line class="g" x1="1694.5" y1="120.5" x2="1694.5" y2="1726.8"/>
<line class="k" x1="1700" y1="120.5" x2="1700" y2="1726.8"/>
<line class="k" x1="1786.9" y1="136.6" x2="1906.8" y2="136.6"/>
<line class="k" x1="1719.2" y1="144.6" x2="1831.1" y2="144.6"/>
<line class="k" x1="1745.9" y1="176.8" x2="1873.5" y2="176.8"/>
<line class="k" x1="1704.5" y1="184.8" x2="1821.1" y2="184.8"/>
<line class="k" x1="1712.5" y1="216.9" x2="1866.8" y2="216.9"/>
<line class="k" x1="1694.2" y1="224.9" x2="1812.1" y2="224.9"/>
<line class="k" x1="1711.5" y1="257.1" x2="1853.1" y2="257.1"/>
<line class="k" x1="1695.9" y1="265.1" x2="1809.5" y2="265.1"/>
<line class="k" x1="1682.2" y1="297.2" x2="1875.8" y2="297.2"/>
<line class="k" x1="1643.9" y1="305.2" x2="1792.5" y2="305.2"/>
<line class="k" x1="1656.5" y1="337.4" x2="1867.8" y2="337.4"/>
<line class="k" x1="1648.9" y1="345.4" x2="1790.8" y2="345.4"/>
<line class="k" x1="1633.5" y1="377.5" x2="1878.5" y2="377.5"/>
<line class="k" x1="1616.9" y1="385.5" x2="1764.8" y2="385.5"/>
<line class="k" x1="1672.2" y1="417.7" x2="1837.5" y2="417.7"/>
<line class="k" x1="1684.9" y1="425.7" x2="1804.8" y2="425.7"/>
<line class="k" x1="1673.2" y1="457.8" x2="1834.5" y2="457.8"/>
<line class="k" x1="1660.2" y1="465.8" x2="1795.1" y2="465.8"/>
<line class="k" x1="1649.2" y1="498" x2="1852.5" y2="498"/>
<line class="k" x1="1627.9" y1="506" x2="1774.8" y2="506"/>
<line class="k" x1="1651.5" y1="538.2" x2="1841.1" y2="538.2"/>
<line class="k" x1="1638.5" y1="546.2" x2="1780.8" y2="546.2"/>
<line class="k" x1="1660.5" y1="578.3" x2="1829.1" y2="578.3"/>
<line class="k" x1="1645.9" y1="586.3" x2="1779.1" y2="586.3"/>
<line class="k" x1="1650.2" y1="618.5" x2="1830.8" y2="618.5"/>
<line class="k" x1="1645.2" y1="626.5" x2="1781.1" y2="626.5"/>
<line class="k" x1="1647.2" y1="658.6" x2="1826.8" y2="658.6"/>
<line class="k" x1="1668.9" y1="666.6" x2="1803.5" y2="666.6"/>
<line class="k" x1="1625.5" y1="698.8" x2="1844.5" y2="698.8"/>
<line class="k" x1="1642.5" y1="706.8" x2="1789.1" y2="706.8"/>
<line class="k" x1="1638.9" y1="738.9" x2="1812.8" y2="738.9"/>
<line class="k" x1="1661.9" y1="746.9" x2="1789.1" y2="746.9"/>
<line class="k" x1="1630.2" y1="779.1" x2="1811.8" y2="779.1"/>
<line class="k" x1="1632.2" y1="787.1" x2="1766.8" y2="787.1"/>
<line class="k" x1="1602.9" y1="819.3" x2="1836.8" y2="819.3"/>
<line class="k" x1="1625.9" y1="827.3" x2="1770.1" y2="827.3"/>
<line class="k" x1="1625.5" y1="859.4" x2="1814.5" y2="859.4"/>
<line class="k" x1="1669.9" y1="867.4" x2="1799.1" y2="867.4"/>
<line class="k" x1="1605.2" y1="899.6" x2="1832.1" y2="899.6"/>
<line class="k" x1="1610.9" y1="907.6" x2="1767.5" y2="907.6"/>
<line class="k" x1="1583.2" y1="939.7" x2="1840.1" y2="939.7"/>
<line class="k" x1="1635.2" y1="947.7" x2="1785.5" y2="947.7"/>
<line class="k" x1="1599.2" y1="979.9" x2="1820.8" y2="979.9"/>
<line class="k" x1="1625.5" y1="987.9" x2="1779.1" y2="987.9"/>
<line class="k" x1="1623.5" y1="1020" x2="1790.8" y2="1020"/>
<line class="k" x1="1645.2" y1="1028" x2="1785.5" y2="1028"/>
<line class="k" x1="1599.5" y1="1060.2" x2="1801.8" y2="1060.2"/>
<line class="k" x1="1622.2" y1="1068.2" x2="1764.8" y2="1068.2"/>
<line class="k" x1="1579.9" y1="1100.3" x2="1794.8" y2="1100.3"/>
<line class="k" x1="1642.2" y1="1108.3" x2="1778.8" y2="1108.3"/>
<line class="k" x1="1591.9" y1="1140.5" x2="1780.8" y2="1140.5"/>
<line class="k" x1="1629.5" y1="1148.5" x2="1776.8" y2="1148.5"/>
<line class="k" x1="1565.2" y1="1180.7" x2="1771.8" y2="1180.7"/>
<line class="k" x1="1617.2" y1="1188.7" x2="1763.5" y2="1188.7"/>
<line class="k" x1="1563.2" y1="1220.8" x2="1774.1" y2="1220.8"/>
<line class="k" x1="1627.5" y1="1228.8" x2="1774.1" y2="1228.8"/>
<line class="k" x1="1559.5" y1="1261" x2="1758.5" y2="1261"/>
<line class="k" x1="1591.2" y1="1269" x2="1750.1" y2="1269"/>
<line class="k" x1="1528.9" y1="1301.1" x2="1785.5" y2="1301.1"/>
<line class="k" x1="1578.5" y1="1309.1" x2="1742.1" y2="1309.1"/>
<line class="k" x1="1519.2" y1="1341.3" x2="1757.1" y2="1341.3"/>
<line class="k" x1="1585.9" y1="1349.3" x2="1739.5" y2="1349.3"/>
<line class="k" x1="1524.5" y1="1381.4" x2="1728.8" y2="1381.4"/>
<line class="k" x1="1594.5" y1="1389.4" x2="1747.8" y2="1389.4"/>
<line class="k" x1="1489.2" y1="1421.6" x2="1749.5" y2="1421.6"/>
<line class="k" x1="1578.9" y1="1429.6" x2="1732.5" y2="1429.6"/>
<line class="k" x1="1497.2" y1="1461.7" x2="1734.1" y2="1461.7"/>
<line class="k" x1="1575.2" y1="1469.7" x2="1738.1" y2="1469.7"/>
<line class="k" x1="1491.9" y1="1501.9" x2="1706.1" y2="1501.9"/>
<line class="k" x1="1567.2" y1="1509.9" x2="1726.8" y2="1509.9"/>
<line class="k" x1="1452.5" y1="1542.1" x2="1702.8" y2="1542.1"/>
<line class="k" x1="1557.9" y1="1550.1" x2="1731.8" y2="1550.1"/>
<line class="k" x1="1448.5" y1="1582.2" x2="1698.5" y2="1582.2"/>
<line class="k" x1="1531.5" y1="1590.2" x2="1708.5" y2="1590.2"/>
<line class="k" x1="1439.9" y1="1622.4" x2="1677.8" y2="1622.4"/>
<line class="k" x1="1547.2" y1="1630.4" x2="1720.1" y2="1630.4"/>
<line class="k" x1="1435.2" y1="1662.5" x2="1678.1" y2="1662.5"/>
<line class="k" x1="1516.9" y1="1670.5" x2="1690.1" y2="1670.5"/>
<line class="k" x1="1424.9" y1="1702.7" x2="1645.8" y2="1702.7"/>
<line class="k" x1="1506.2" y1="1710.7" x2="1682.5" y2="1710.7"/>
<rect class="s" x="1744.4" y="133.2" width="14.7" height="14.7"/>
<rect class="s" x="1742.4" y="173.4" width="14.7" height="14.7"/>
<rect class="s" x="1736.7" y="213.6" width="14.7" height="14.7"/>
<rect class="s" x="1749" y="253.7" width="14.7" height="14.7"/>
<rect class="s" x="1753.4" y="293.9" width="14.7" height="14.7"/>
<rect class="s" x="1702.4" y="334" width="14.7" height="14.7"/>
<rect class="s" x="1719" y="374.2" width="14.7" height="14.7"/>
<rect class="s" x="1696.7" y="414.3" width="14.7" height="14.7"/>
<rect class="s" x="1671.4" y="454.5" width="14.7" height="14.7"/>
<rect class="s" x="1692.4" y="494.7" width="14.7" height="14.7"/>
<rect class="s" x="1680.7" y="534.8" width="14.7" height="14.7"/>
<rect class="s" x="1694.7" y="575" width="14.7" height="14.7"/>
<rect class="s" x="1713.4" y="615.1" width="14.7" height="14.7"/>
<rect class="s" x="1683.7" y="655.3" width="14.7" height="14.7"/>
<rect class="s" x="1708" y="695.4" width="14.7" height="14.7"/>
<rect class="s" x="1694.7" y="735.6" width="14.7" height="14.7"/>
<rect class="s" x="1673.7" y="775.7" width="14.7" height="14.7"/>
<rect class="s" x="1670.4" y="815.9" width="14.7" height="14.7"/>
<rect class="s" x="1716.4" y="856.1" width="14.7" height="14.7"/>
<rect class="s" x="1683.4" y="896.2" width="14.7" height="14.7"/>
<rect class="s" x="1635.7" y="936.4" width="14.7" height="14.7"/>
<rect class="s" x="1675.4" y="976.5" width="14.7" height="14.7"/>
<rect class="s" x="1704" y="1016.7" width="14.7" height="14.7"/>
<rect class="s" x="1699.7" y="1056.8" width="14.7" height="14.7"/>
<rect class="s" x="1725.7" y="1097" width="14.7" height="14.7"/>
<rect class="s" x="1642.4" y="1137.2" width="14.7" height="14.7"/>
<rect class="s" x="1681.4" y="1177.3" width="14.7" height="14.7"/>
<rect class="s" x="1660" y="1217.5" width="14.7" height="14.7"/>
<rect class="s" x="1671.7" y="1257.6" width="14.7" height="14.7"/>
<rect class="s" x="1666.4" y="1297.8" width="14.7" height="14.7"/>
<rect class="s" x="1586" y="1337.9" width="14.7" height="14.7"/>
<rect class="s" x="1706.7" y="1378.1" width="14.7" height="14.7"/>
<rect class="s" x="1675.4" y="1418.2" width="14.7" height="14.7"/>
<rect class="s" x="1700.7" y="1458.4" width="14.7" height="14.7"/>
<rect class="s" x="1624" y="1498.6" width="14.7" height="14.7"/>
<rect class="s" x="1672.7" y="1538.7" width="14.7" height="14.7"/>
<rect class="s" x="1635.7" y="1578.9" width="14.7" height="14.7"/>
<rect class="s" x="1644" y="1619" width="14.7" height="14.7"/>
<rect class="s" x="1588.4" y="1659.2" width="14.7" height="14.7"/>
<rect class="s" x="1658.4" y="1699.3" width="14.7" height="14.7"/>
<circle class="d" cx="1846.3" cy="136.6" r="8.5"/>
<circle class="d" cx="1808.7" cy="176.8" r="8.5"/>
<circle class="d" cx="1789.3" cy="216.9" r="8.5"/>
<circle class="d" cx="1782" cy="257.1" r="8.5"/>
<circle class="d" cx="1779" cy="297.2" r="8.5"/>
<circle class="d" cx="1762" cy="337.4" r="8.5"/>
<circle class="d" cx="1756" cy="377.5" r="8.5"/>
<circle class="d" cx="1755" cy="417.7" r="8.5"/>
<circle class="d" cx="1753.3" cy="457.8" r="8.5"/>
<circle class="d" cx="1751" cy="498" r="8.5"/>
<circle class="d" cx="1746.3" cy="538.2" r="8.5"/>
<circle class="d" cx="1744.7" cy="578.3" r="8.5"/>
<circle class="d" cx="1740.7" cy="618.5" r="8.5"/>
<circle class="d" cx="1737" cy="658.6" r="8.5"/>
<circle class="d" cx="1734.7" cy="698.8" r="8.5"/>
<circle class="d" cx="1726" cy="738.9" r="8.5"/>
<circle class="d" cx="1720.7" cy="779.1" r="8.5"/>
<circle class="d" cx="1720" cy="819.3" r="8.5"/>
<circle class="d" cx="1719.7" cy="859.4" r="8.5"/>
<circle class="d" cx="1718.7" cy="899.6" r="8.5"/>
<circle class="d" cx="1711.7" cy="939.7" r="8.5"/>
<circle class="d" cx="1710.3" cy="979.9" r="8.5"/>
<circle class="d" cx="1707.3" cy="1020" r="8.5"/>
<circle class="d" cx="1700.7" cy="1060.2" r="8.5"/>
<circle class="d" cx="1687.3" cy="1100.3" r="8.5"/>
<circle class="d" cx="1686.3" cy="1140.5" r="8.5"/>
<circle class="d" cx="1668.3" cy="1180.7" r="8.5"/>
<circle class="d" cx="1668.3" cy="1220.8" r="8.5"/>
<circle class="d" cx="1659" cy="1261" r="8.5"/>
<circle class="d" cx="1657" cy="1301.1" r="8.5"/>
<circle class="d" cx="1638.3" cy="1341.3" r="8.5"/>
<circle class="d" cx="1626.7" cy="1381.4" r="8.5"/>
<circle class="d" cx="1619.3" cy="1421.6" r="8.5"/>
<circle class="d" cx="1615.7" cy="1461.7" r="8.5"/>
<circle class="d" cx="1599" cy="1501.9" r="8.5"/>
<circle class="d" cx="1578" cy="1542.1" r="8.5"/>
<circle class="d" cx="1574" cy="1582.2" r="8.5"/>
<circle class="d" cx="1558.7" cy="1622.4" r="8.5"/>
<circle class="d" cx="1556.3" cy="1662.5" r="8.5"/>
<circle class="d" cx="1535.3" cy="1702.7" r="8.5"/>
<circle class="c" cx="1775" cy="144.6" r="8.15"/>
<circle class="c" cx="1762.6" cy="184.8" r="8.15"/>
<circle class="c" cx="1752.6" cy="224.9" r="8.15"/>
<circle class="c" cx="1752.3" cy="265.1" r="8.15"/>
<circle class="c" cx="1718" cy="305.2" r="8.15"/>
<circle class="c" cx="1720" cy="345.4" r="8.15"/>
<circle class="c" cx="1691" cy="385.5" r="8.15"/>
<circle class="c" cx="1745" cy="425.7" r="8.15"/>
<circle class="c" cx="1727.6" cy="465.8" r="8.15"/>
<circle class="c" cx="1701.3" cy="506" r="8.15"/>
<circle class="c" cx="1710" cy="546.2" r="8.15"/>
<circle class="c" cx="1712.6" cy="586.3" r="8.15"/>
<circle class="c" cx="1713.3" cy="626.5" r="8.15"/>
<circle class="c" cx="1736.3" cy="666.6" r="8.15"/>
<circle class="c" cx="1716" cy="706.8" r="8.15"/>
<circle class="c" cx="1725.6" cy="746.9" r="8.15"/>
<circle class="c" cx="1700" cy="787.1" r="8.15"/>
<circle class="c" cx="1698" cy="827.3" r="8.15"/>
<circle class="c" cx="1734.6" cy="867.4" r="8.15"/>
<circle class="c" cx="1689.3" cy="907.6" r="8.15"/>
<circle class="c" cx="1710.6" cy="947.7" r="8.15"/>
<circle class="c" cx="1702.6" cy="987.9" r="8.15"/>
<circle class="c" cx="1715.6" cy="1028" r="8.15"/>
<circle class="c" cx="1694" cy="1068.2" r="8.15"/>
<circle class="c" cx="1710.6" cy="1108.3" r="8.15"/>
<circle class="c" cx="1703.3" cy="1148.5" r="8.15"/>
<circle class="c" cx="1690" cy="1188.7" r="8.15"/>
<circle class="c" cx="1701" cy="1228.8" r="8.15"/>
<circle class="c" cx="1670.6" cy="1269" r="8.15"/>
<circle class="c" cx="1660.6" cy="1309.1" r="8.15"/>
<circle class="c" cx="1662.3" cy="1349.3" r="8.15"/>
<circle class="c" cx="1671" cy="1389.4" r="8.15"/>
<circle class="c" cx="1655.6" cy="1429.6" r="8.15"/>
<circle class="c" cx="1657" cy="1469.7" r="8.15"/>
<circle class="c" cx="1647" cy="1509.9" r="8.15"/>
<circle class="c" cx="1644.6" cy="1550.1" r="8.15"/>
<circle class="c" cx="1619.6" cy="1590.2" r="8.15"/>
<circle class="c" cx="1633.3" cy="1630.4" r="8.15"/>
<circle class="c" cx="1603.3" cy="1670.5" r="8.15"/>
<circle class="c" cx="1594.3" cy="1710.7" r="8.15"/>
<rect class="b" x="1336.4" y="78.2" width="609" height="1691.4"/>
<line class="k" x1="1415.5" y1="1769.6" x2="1415.5" y2="1791.3"/>
<text class="x" transform="translate(1415.5 1848.5) scale(1 1.044)">0.5</text>
<line class="k" x1="1528.3" y1="1769.6" x2="1528.3" y2="1791.3"/>
<text class="x" transform="translate(1528.3 1848.5) scale(1 1.044)">0.6</text>
<line class="k" x1="1641" y1="1769.6" x2="1641" y2="1791.3"/>
<text class="x" transform="translate(1641 1848.5) scale(1 1.044)">0.7</text>
<line class="k" x1="1753.8" y1="1769.6" x2="1753.8" y2="1791.3"/>
<text class="x" transform="translate(1753.8 1848.5) scale(1 1.044)">0.8</text>
<line class="k" x1="1866.5" y1="1769.6" x2="1866.5" y2="1791.3"/>
<text class="x" transform="translate(1866.5 1848.5) scale(1 1.044)">0.9</text>
</g>
<g>
<line class="k" x1="52.3" y1="140.6" x2="74.6" y2="140.6"/>
<text class="y" transform="translate(31 151.1) scale(1 1.044)">40</text>
<line class="k" x1="52.3" y1="180.8" x2="74.6" y2="180.8"/>
<text class="y" transform="translate(31 191.3) scale(1 1.044)">39</text>
<line class="k" x1="52.3" y1="220.9" x2="74.6" y2="220.9"/>
<text class="y" transform="translate(31 231.4) scale(1 1.044)">38</text>
<line class="k" x1="52.3" y1="261.1" x2="74.6" y2="261.1"/>
<text class="y" transform="translate(31 271.6) scale(1 1.044)">37</text>
<line class="k" x1="52.3" y1="301.2" x2="74.6" y2="301.2"/>
<text class="y" transform="translate(31 311.7) scale(1 1.044)">36</text>
<line class="k" x1="52.3" y1="341.4" x2="74.6" y2="341.4"/>
<text class="y" transform="translate(31 351.9) scale(1 1.044)">35</text>
<line class="k" x1="52.3" y1="381.5" x2="74.6" y2="381.5"/>
<text class="y" transform="translate(31 392) scale(1 1.044)">34</text>
<line class="k" x1="52.3" y1="421.7" x2="74.6" y2="421.7"/>
<text class="y" transform="translate(31 432.2) scale(1 1.044)">33</text>
<line class="k" x1="52.3" y1="461.8" x2="74.6" y2="461.8"/>
<text class="y" transform="translate(31 472.3) scale(1 1.044)">32</text>
<line class="k" x1="52.3" y1="502" x2="74.6" y2="502"/>
<text class="y" transform="translate(31 512.5) scale(1 1.044)">31</text>
<line class="k" x1="52.3" y1="542.2" x2="74.6" y2="542.2"/>
<text class="y" transform="translate(31 552.7) scale(1 1.044)">30</text>
<line class="k" x1="52.3" y1="582.3" x2="74.6" y2="582.3"/>
<text class="y" transform="translate(31 592.8) scale(1 1.044)">29</text>
<line class="k" x1="52.3" y1="622.5" x2="74.6" y2="622.5"/>
<text class="y" transform="translate(31 633) scale(1 1.044)">28</text>
<line class="k" x1="52.3" y1="662.6" x2="74.6" y2="662.6"/>
<text class="y" transform="translate(31 673.1) scale(1 1.044)">27</text>
<line class="k" x1="52.3" y1="702.8" x2="74.6" y2="702.8"/>
<text class="y" transform="translate(31 713.3) scale(1 1.044)">26</text>
<line class="k" x1="52.3" y1="742.9" x2="74.6" y2="742.9"/>
<text class="y" transform="translate(31 753.4) scale(1 1.044)">25</text>
<line class="k" x1="52.3" y1="783.1" x2="74.6" y2="783.1"/>
<text class="y" transform="translate(31 793.6) scale(1 1.044)">24</text>
<line class="k" x1="52.3" y1="823.3" x2="74.6" y2="823.3"/>
<text class="y" transform="translate(31 833.8) scale(1 1.044)">23</text>
<line class="k" x1="52.3" y1="863.4" x2="74.6" y2="863.4"/>
<text class="y" transform="translate(31 873.9) scale(1 1.044)">22</text>
<line class="k" x1="52.3" y1="903.6" x2="74.6" y2="903.6"/>
<text class="y" transform="translate(31 914.1) scale(1 1.044)">21</text>
<line class="k" x1="52.3" y1="943.7" x2="74.6" y2="943.7"/>
<text class="y" transform="translate(31 954.2) scale(1 1.044)">20</text>
<line class="k" x1="52.3" y1="983.9" x2="74.6" y2="983.9"/>
<text class="y" transform="translate(31 994.4) scale(1 1.044)">19</text>
<line class="k" x1="52.3" y1="1024" x2="74.6" y2="1024"/>
<text class="y" transform="translate(31 1034.5) scale(1 1.044)">18</text>
<line class="k" x1="52.3" y1="1064.2" x2="74.6" y2="1064.2"/>
<text class="y" transform="translate(31 1074.7) scale(1 1.044)">17</text>
<line class="k" x1="52.3" y1="1104.3" x2="74.6" y2="1104.3"/>
<text class="y" transform="translate(31 1114.8) scale(1 1.044)">16</text>
<line class="k" x1="52.3" y1="1144.5" x2="74.6" y2="1144.5"/>
<text class="y" transform="translate(31 1155) scale(1 1.044)">15</text>
<line class="k" x1="52.3" y1="1184.7" x2="74.6" y2="1184.7"/>
<text class="y" transform="translate(31 1195.2) scale(1 1.044)">14</text>
<line class="k" x1="52.3" y1="1224.8" x2="74.6" y2="1224.8"/>
<text class="y" transform="translate(31 1235.3) scale(1 1.044)">13</text>
<line class="k" x1="52.3" y1="1265" x2="74.6" y2="1265"/>
<text class="y" transform="translate(31 1275.5) scale(1 1.044)">12</text>
<line class="k" x1="52.3" y1="1305.1" x2="74.6" y2="1305.1"/>
<text class="y" transform="translate(31 1315.6) scale(1 1.044)">11</text>
<line class="k" x1="52.3" y1="1345.3" x2="74.6" y2="1345.3"/>
<text class="y" transform="translate(31 1355.8) scale(1 1.044)">10</text>
<line class="k" x1="52.3" y1="1385.4" x2="74.6" y2="1385.4"/>
<text class="y" transform="translate(31 1395.9) scale(1 1.044)">9</text>
<line class="k" x1="52.3" y1="1425.6" x2="74.6" y2="1425.6"/>
<text class="y" transform="translate(31 1436.1) scale(1 1.044)">8</text>
<line class="k" x1="52.3" y1="1465.7" x2="74.6" y2="1465.7"/>
<text class="y" transform="translate(31 1476.2) scale(1 1.044)">7</text>
<line class="k" x1="52.3" y1="1505.9" x2="74.6" y2="1505.9"/>
<text class="y" transform="translate(31 1516.4) scale(1 1.044)">6</text>
<line class="k" x1="52.3" y1="1546.1" x2="74.6" y2="1546.1"/>
<text class="y" transform="translate(31 1556.6) scale(1 1.044)">5</text>
<line class="k" x1="52.3" y1="1586.2" x2="74.6" y2="1586.2"/>
<text class="y" transform="translate(31 1596.7) scale(1 1.044)">4</text>
<line class="k" x1="52.3" y1="1626.4" x2="74.6" y2="1626.4"/>
<text class="y" transform="translate(31 1636.9) scale(1 1.044)">3</text>
<line class="k" x1="52.3" y1="1666.5" x2="74.6" y2="1666.5"/>
<text class="y" transform="translate(31 1677) scale(1 1.044)">2</text>
<line class="k" x1="52.3" y1="1706.7" x2="74.6" y2="1706.7"/>
<text class="y" transform="translate(31 1717.2) scale(1 1.044)">1</text>
</g>
<g>
<rect x="599" y="120.7" width="244.8" height="175.6" fill="#fff" stroke="#000" stroke-width="4.15" stroke-linejoin="round"/>
<rect class="s" x="634.4" y="157.2" width="14.7" height="14.7"/>
<line class="k" x1="609.1" y1="208.3" x2="674.8" y2="208.3"/>
<circle class="d" cx="641.7" cy="208.3" r="8.5"/>
<line class="k" x1="609.1" y1="252.3" x2="674.8" y2="252.3"/>
<circle class="c" cx="641.7" cy="252.3" r="8.15"/>
<text class="l" transform="translate(707.8 177.9) scale(1 1.044)">TRUE</text>
<text class="l" transform="translate(707.8 221.9) scale(1 1.044)">fixed</text>
<text class="l" transform="translate(707.8 265.9) scale(1 1.044)">random</text>
</g>
<g>
<rect class="s" x="1394.4" y="157.2" width="14.7" height="14.7"/>
<line class="k" x1="1369.1" y1="208.3" x2="1434.8" y2="208.3"/>
<circle class="d" cx="1401.7" cy="208.3" r="8.5"/>
<line class="k" x1="1369.1" y1="252.3" x2="1434.8" y2="252.3"/>
<circle class="c" cx="1401.7" cy="252.3" r="8.15"/>
<text class="l" transform="translate(1467.8 177.9) scale(1 1.044)">TRUE</text>
<text class="l" transform="translate(1467.8 221.9) scale(1 1.044)">AUC</text>
<text class="l" transform="translate(1467.8 265.9) scale(1 1.044)">cmbc</text>
</g>
<g fill="#fff">
<rect x="130.20" y="1845.40" width="7.77" height="4.40"/>
<rect x="142.00" y="1845.40" width="6.80" height="4.40"/>
<rect x="590.20" y="1845.40" width="7.77" height="4.40"/>
<rect x="602.00" y="1845.40" width="6.80" height="4.40"/>
<rect x="986.20" y="1845.40" width="7.47" height="4.40"/>
<rect x="997.45" y="1845.40" width="7.35" height="4.40"/>
<rect x="1104.20" y="1845.40" width="6.80" height="4.40"/>
<rect x="1115.11" y="1845.40" width="6.88" height="4.40"/>
<rect x="16.20" y="509.40" width="5.80" height="4.65"/>
<rect x="25.00" y="509.40" width="5.80" height="4.65"/>
<rect x="16.20" y="910.40" width="5.80" height="4.65"/>
<rect x="25.00" y="910.40" width="5.80" height="4.65"/>
<rect x="0.20" y="990.40" width="5.80" height="4.65"/>
<rect x="9.00" y="990.40" width="5.80" height="4.65"/>
<rect x="0.20" y="1031.40" width="5.80" height="4.65"/>
<rect x="9.00" y="1031.40" width="5.80" height="4.65"/>
<rect x="0.20" y="1071.40" width="5.80" height="4.65"/>
<rect x="9.00" y="1071.40" width="5.80" height="4.65"/>
<rect x="0.20" y="1111.40" width="5.80" height="4.65"/>
<rect x="9.00" y="1111.40" width="5.80" height="4.65"/>
<rect x="0.20" y="1151.40" width="5.80" height="4.65"/>
<rect x="9.00" y="1151.40" width="5.80" height="4.65"/>
<rect x="0.20" y="1191.40" width="5.80" height="4.65"/>
<rect x="9.00" y="1191.40" width="5.80" height="4.65"/>
<rect x="0.20" y="1231.40" width="5.80" height="4.65"/>
<rect x="9.00" y="1231.40" width="5.80" height="4.65"/>
<rect x="0.20" y="1272.40" width="5.80" height="4.65"/>
<rect x="9.00" y="1272.40" width="5.80" height="4.65"/>
<rect x="0.20" y="1312.40" width="5.80" height="4.65"/>
<rect x="9.00" y="1312.40" width="5.80" height="4.65"/>
<rect x="16.20" y="1312.40" width="5.80" height="4.65"/>
<rect x="25.00" y="1312.40" width="5.80" height="4.65"/>
<rect x="0.20" y="1352.40" width="5.80" height="4.65"/>
<rect x="9.00" y="1352.40" width="5.80" height="4.65"/>
<rect x="16.20" y="1713.40" width="5.80" height="4.65"/>
<rect x="25.00" y="1713.40" width="5.80" height="4.65"/>
</g>
</svg>
</body></html>
